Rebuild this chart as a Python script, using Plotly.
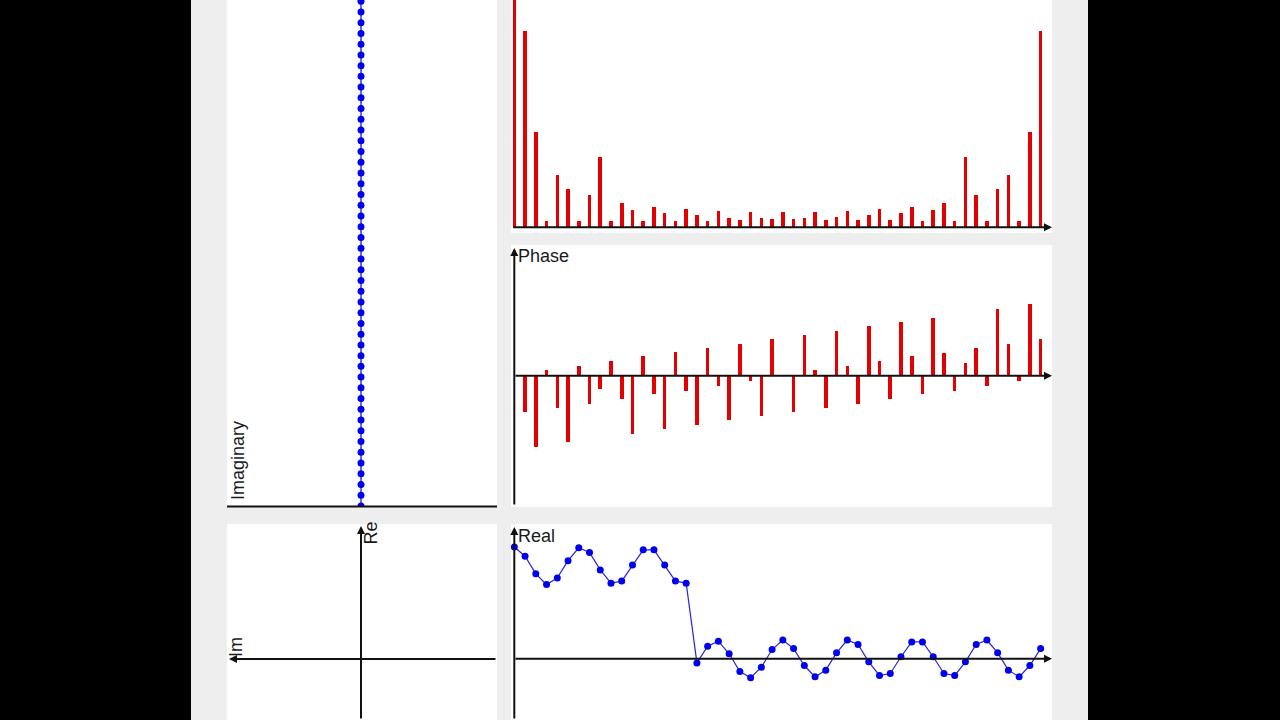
import plotly.graph_objects as go

W, H = 1280, 720

# sample index n and DFT bin index k
n = list(range(50))
k = list(range(50))

real_part = [6.01, 5.52, 4.57, 3.99, 4.35, 5.28, 5.97, 5.72, 4.78, 4.07,
             4.18, 5.05, 5.86, 5.86, 5.05, 4.18, 4.07, -0.22, 0.68, 0.95,
             0.27, -0.68, -1.02, -0.45, 0.50, 1.01, 0.55, -0.36, -0.97, -0.61,
             0.32, 1.01, 0.77, -0.16, -0.90, -0.79, 0.11, 0.91, 0.91, 0.11,
             -0.79, -0.90, -0.16, 0.77, 1.01, 0.32, -0.61, -0.97, -0.36, 0.55]
imag_part = [0.0] * 50

# spectrum magnitude (bin 0 runs off the top of the panel)
magnitude = [86.0, 70.0, 34.0, 2.6, 19.0, 13.9, 2.6, 11.7, 25.4, 2.6,
             8.9, 6.5, 2.6, 7.4, 5.3, 2.6, 6.7, 4.6, 2.6, 6.2,
             3.8, 3.0, 5.8, 3.7, 3.2, 5.8, 3.2, 3.7, 5.8, 3.0,
             3.9, 6.3, 2.8, 4.6, 6.7, 2.8, 5.3, 7.4, 2.6, 6.5,
             8.9, 2.6, 25.4, 11.7, 2.6, 13.9, 19.0, 2.6, 34.0, 70.0]

# spectrum phase, radians
phase = [0.0, -0.87, -1.72, 0.15, -0.77, -1.60, 0.24, -0.67, -0.31, 0.36,
         -0.56, -1.40, 0.47, -0.44, -1.29, 0.57, -0.36, -1.18, 0.68, -0.24,
         -1.07, 0.77, -0.13, -0.98, 0.89, 0.0, -0.87, 0.98, 0.15, -0.77,
         1.09, 0.24, -0.67, 1.20, 0.36, -0.56, 1.31, 0.47, -0.44, 1.40,
         0.56, -0.36, 0.31, 0.68, -0.24, 1.62, 0.77, -0.13, 1.73, 0.88]

RED = "#e40000"
BLUE = "#0000ea"
AXIS = "#111111"


def px(x):
    return x / W


def py(y):
    return 1 - y / H


fig = go.Figure()

# top-left: imaginary part against n (all zero)
fig.add_trace(go.Scatter(x=imag_part, y=n, mode="lines+markers", xaxis="x", yaxis="y",
                         line=dict(color=BLUE, width=1.2), marker=dict(color=BLUE, size=7)))
# top-right: magnitude
fig.add_trace(go.Bar(x=k, y=magnitude, xaxis="x2", yaxis="y2", width=0.33,
                     marker=dict(color=RED, line=dict(width=0))))
# middle-right: phase
fig.add_trace(go.Bar(x=k, y=phase, xaxis="x3", yaxis="y3", width=0.33,
                     marker=dict(color=RED, line=dict(width=0))))
# bottom-right: real part
fig.add_trace(go.Scatter(x=n, y=real_part, mode="lines+markers", xaxis="x4", yaxis="y4",
                         line=dict(color="#2626d6", width=1.2), marker=dict(color=BLUE, size=7)))

hidden = dict(visible=False, showgrid=False, zeroline=False, fixedrange=True)
right_x = dict(domain=[px(511), px(1052)], range=[-0.31, 50.06], **hidden)

# panel backgrounds
panels = [(227, 0, 497, 507), (511, 0, 1052, 233), (511, 245, 1052, 507),
          (511, 524, 1052, 720), (227, 524, 497, 720)]
shapes = [dict(type="rect", xref="paper", yref="paper", x0=px(191), x1=px(1088), y0=0, y1=1,
               fillcolor="#eeeeee", line=dict(width=0), layer="below")]
for x0, y0, x1, y1 in panels:
    shapes.append(dict(type="rect", xref="paper", yref="paper", x0=px(x0), x1=px(x1),
                       y0=py(y1), y1=py(y0), fillcolor="white", line=dict(width=0), layer="below"))
shapes.append(dict(type="line", xref="paper", yref="paper", x0=px(227), x1=px(497),
                   y0=py(506.5), y1=py(506.5), line=dict(color=AXIS, width=2)))

# axis lines with arrowheads: (tip_x, tip_y, tail_x, tail_y) in pixels
arrows = [(1052, 227.3, 512, 227.3),
          (1052, 375.7, 514, 375.7), (514.3, 248, 514.3, 506),
          (1052, 658.8, 514, 658.8), (514.3, 527, 514.3, 720),
          (229, 659, 497, 659), (361, 526, 361, 720)]
annotations = []
for tx, ty, sx, sy in arrows:
    annotations.append(dict(xref="paper", yref="paper", x=px(tx), y=py(ty), text="",
                            showarrow=True, ax=sx - tx, ay=sy - ty, arrowhead=2,
                            arrowsize=0.8, arrowwidth=2, arrowcolor=AXIS, standoff=0))

label_font = dict(family="Arial, Liberation Sans, sans-serif", size=18, color="#1a1a1a")
annotations += [
    dict(xref="paper", yref="paper", x=px(516), y=py(256), text="Phase", showarrow=False,
         xanchor="left", yanchor="middle", font=label_font),
    dict(xref="paper", yref="paper", x=px(516), y=py(536), text="Real", showarrow=False,
         xanchor="left", yanchor="middle", font=label_font),
    dict(xref="paper", yref="paper", x=px(238), y=py(461), text="Imaginary", showarrow=False,
         textangle=-90, xanchor="center", yanchor="middle", font=label_font),
    dict(xref="paper", yref="paper", x=px(370.5), y=py(533), text="Re", showarrow=False,
         textangle=-90, xanchor="center", yanchor="middle", font=label_font),
    dict(xref="paper", yref="paper", x=px(236), y=py(647), text="Im", showarrow=False,
         textangle=-90, xanchor="center", yanchor="middle", font=label_font),
]

fig.update_layout(
    width=W, height=H,
    margin=dict(l=0, r=0, t=0, b=0),
    paper_bgcolor="black",
    plot_bgcolor="rgba(0,0,0,0)",
    showlegend=False,
    bargap=0,
    xaxis=dict(domain=[px(227), px(497)], range=[-1.0, 1.015], anchor="y", **hidden),
    yaxis=dict(domain=[py(507), 1], range=[-0.093, 47.11], anchor="x", **hidden),
    xaxis2=dict(anchor="y2", **right_x),
    yaxis2=dict(domain=[py(233), 1], range=[-1.67, 80.9], anchor="x2", **hidden),
    xaxis3=dict(anchor="y3", **right_x),
    yaxis3=dict(domain=[py(507), py(245)], range=[-3.17, 3.16], anchor="x3", **hidden),
    xaxis4=dict(anchor="y4", **right_x),
    yaxis4=dict(domain=[0, py(524)], range=[-3.29, 7.25], anchor="x4", **hidden),
    shapes=shapes,
    annotations=annotations,
)

# drop the browser's default 8px page margin so the figure fills the window
fig.write_html("out.html", config={"displayModeBar": False},
               post_script="document.body.style.margin='0';"
               "document.body.style.overflow='hidden';")
